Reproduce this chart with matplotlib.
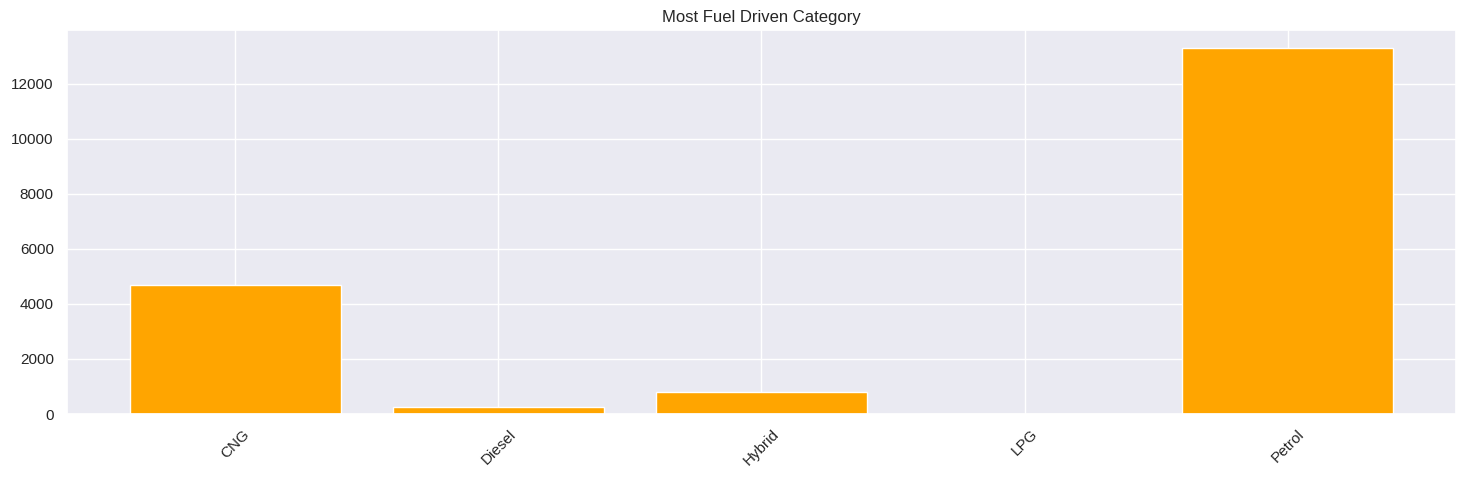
import matplotlib
matplotlib.use("Agg")
import matplotlib.pyplot as plt
import seaborn as sns

categories = ["CNG", "Diesel", "Hybrid", "LPG", "Petrol"]
counts = [4700, 260, 805, 12, 13290]

sns.set_theme(style="darkgrid")
plt.rcParams['font.family'] = ['Liberation Sans', 'DejaVu Sans']

dpi = 100
fig, ax = plt.subplots(figsize=(14.7, 4.79), dpi=dpi)
ax.bar(categories, counts, color="orange")
ax.set_title("Most Fuel Driven Category", fontsize=12)
ax.tick_params(labelsize=11)
plt.xticks(rotation=45)
fig.subplots_adjust(left=67/1470, right=1456/1470, top=1-30/479, bottom=1-414/479)
fig.savefig("out.png", dpi=dpi)
